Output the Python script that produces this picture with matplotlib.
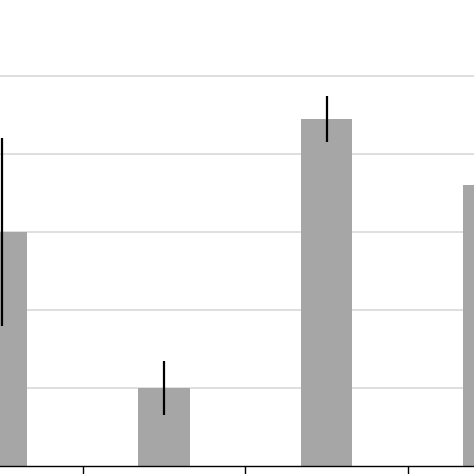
import numpy as np
import matplotlib
matplotlib.use('Agg')
import matplotlib.pyplot as plt

categories = ['A', 'B', 'C', 'D']
values = [3.0, 1.0, 4.45, 3.6]
errors = [1.2, 0.35, 0.29, 0.0]

fig = plt.figure(figsize=(4.74, 4.74), dpi=100)
ax = fig.add_axes([0, 8 / 474, 1, 468 / 474])

x = np.arange(len(categories))
ax.bar(x, values, width=0.314, color='#a6a6a6', zorder=2)
ax.errorbar(x, values, yerr=errors, fmt='none', ecolor='black',
            elinewidth=1.6, capsize=0, zorder=3)

ax.set_xlim(-1.5 / 162.5, 472.5 / 162.5)
ax.set_ylim(0, 6)
ax.set_yticks([1, 2, 3, 4, 5])
ax.yaxis.grid(True, color='#d9d9d9', linewidth=1.2)
ax.set_axisbelow(True)
ax.tick_params(axis='y', length=0, labelleft=False)

ax.set_xticks(x[:-1] + 0.5)
ax.set_xticklabels([])
ax.tick_params(axis='x', length=7, width=1.0, color='black')

for side in ['top', 'left', 'right']:
    ax.spines[side].set_visible(False)
ax.spines['bottom'].set_linewidth(1.0)

fig.savefig('out.png', dpi=100)
